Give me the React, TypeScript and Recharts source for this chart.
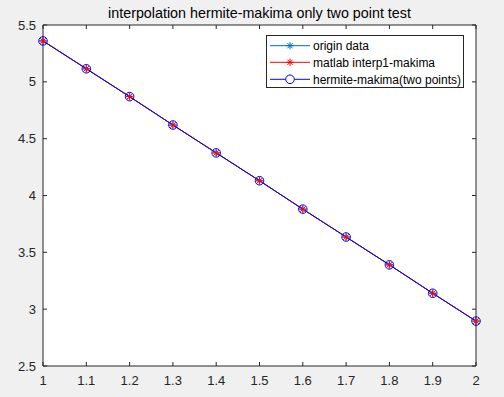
import React from "react";
import { LineChart, Line, XAxis, YAxis, ReferenceLine } from "recharts";

const xValues = [1, 1.1, 1.2, 1.3, 1.4, 1.5, 1.6, 1.7, 1.8, 1.9, 2];
const originY = [5.36, 5.115, 4.87, 4.62, 4.375, 4.13, 3.88, 3.635, 3.39, 3.14, 2.895];
const makimaY = [5.36, 5.115, 4.87, 4.62, 4.375, 4.13, 3.88, 3.635, 3.39, 3.14, 2.895];
const hermiteY = [5.36, 5.115, 4.87, 4.62, 4.375, 4.13, 3.88, 3.635, 3.39, 3.14, 2.895];
const xTicks = [1, 1.1, 1.2, 1.3, 1.4, 1.5, 1.6, 1.7, 1.8, 1.9, 2];
const yTicks = [2.5, 3, 3.5, 4, 4.5, 5, 5.5];
const seriesNames = ["origin data", "matlab interp1-makima", "hermite-makima(two points)"];
const titleText = "interpolation hermite-makima only two point test";

const data = xValues.map((x, i) => ({
  x,
  origin: originY[i],
  makima: makimaY[i],
  hermite: hermiteY[i],
}));

const W = 504;
const H = 397;
const PLOT_LEFT = 43;
const PLOT_RIGHT = 476;
const PLOT_TOP = 25;
const PLOT_BOTTOM = 366;
const AXIS_COLOR = "#262626";
const FONT = "Arial, 'Liberation Sans', Helvetica, sans-serif";
const C_ORIGIN = "#0072BD";
const C_MAKIMA = "#FF0000";
const C_HERMITE = "#0000FF";
const TICK_LEN = 4;

function Star({ cx, cy, color, r = 3.6 }: { cx: number; cy: number; color: string; r?: number }) {
  const d = r * 0.72;
  return (
    <g stroke={color} strokeWidth={1} fill="none">
      <line x1={cx - r} y1={cy} x2={cx + r} y2={cy} />
      <line x1={cx} y1={cy - r} x2={cx} y2={cy + r} />
      <line x1={cx - d} y1={cy - d} x2={cx + d} y2={cy + d} />
      <line x1={cx - d} y1={cy + d} x2={cx + d} y2={cy - d} />
    </g>
  );
}

const starDot = (color: string) => (props: any) => {
  const { cx, cy, index } = props;
  if (cx == null || cy == null) return <g key={index} />;
  return <Star key={index} cx={cx} cy={cy} color={color} />;
};

const circleDot = (props: any) => {
  const { cx, cy, index } = props;
  if (cx == null || cy == null) return <g key={index} />;
  return <circle key={index} cx={cx} cy={cy} r={4.3} fill="none" stroke={C_HERMITE} strokeWidth={1} />;
};

const XTick = (props: any) => {
  const { x, y, payload } = props;
  const cx = payload.coordinate ?? x;
  return (
    <g>
      <line x1={cx} y1={PLOT_BOTTOM} x2={cx} y2={PLOT_BOTTOM - TICK_LEN} stroke={AXIS_COLOR} />
      <line x1={cx} y1={PLOT_TOP} x2={cx} y2={PLOT_TOP + TICK_LEN} stroke={AXIS_COLOR} />
      <text x={cx} y={y} dy="0.71em" textAnchor="middle" fill={AXIS_COLOR} fontSize={13} fontFamily={FONT}>
        {String(payload.value)}
      </text>
    </g>
  );
};

const YTick = (props: any) => {
  const { x, y, payload } = props;
  const cy = payload.coordinate ?? y;
  return (
    <g>
      <line x1={PLOT_LEFT} y1={cy} x2={PLOT_LEFT + TICK_LEN} y2={cy} stroke={AXIS_COLOR} />
      <line x1={PLOT_RIGHT} y1={cy} x2={PLOT_RIGHT - TICK_LEN} y2={cy} stroke={AXIS_COLOR} />
      <text x={x} y={cy} dy="0.355em" textAnchor="end" fill={AXIS_COLOR} fontSize={13} fontFamily={FONT}>
        {String(payload.value)}
      </text>
    </g>
  );
};

function LegendBox() {
  const lx = 266.5;
  const ly = 35.5;
  const lw = 197;
  const lh = 52;
  const rows = [45.7, 62.3, 79.3];
  const colors = [C_ORIGIN, C_MAKIMA, C_HERMITE];
  return (
    <g>
      <rect x={lx} y={ly} width={lw} height={lh} fill="#ffffff" stroke={AXIS_COLOR} strokeWidth={1} />
      {seriesNames.map((name, i) => (
        <g key={name}>
          <line x1={270} y1={rows[i]} x2={310} y2={rows[i]} stroke={colors[i]} strokeWidth={1} />
          {i < 2 ? (
            <Star cx={290} cy={rows[i]} color={colors[i]} />
          ) : (
            <circle cx={290} cy={rows[i]} r={4.3} fill="#ffffff" stroke={C_HERMITE} strokeWidth={1} />
          )}
          <text x={313} y={rows[i]} dy="0.36em" fontSize={12} fill="#000" fontFamily={FONT}>
            {name}
          </text>
        </g>
      ))}
    </g>
  );
}

export default function App() {
  return (
    <div style={{ position: "absolute", left: 0, top: 0, width: W, height: H, background: "#f0f0f0" }}>
      <div style={{ position: "absolute", left: PLOT_LEFT, top: PLOT_TOP, width: PLOT_RIGHT - PLOT_LEFT, height: PLOT_BOTTOM - PLOT_TOP, background: "#ffffff" }} />
      <div style={{ position: "absolute", left: 0, top: 0 }}>
        <LineChart
          width={W}
          height={H}
          data={data}
          margin={{ top: PLOT_TOP, right: W - PLOT_RIGHT, bottom: 0, left: 0 }}
        >
          <XAxis
            dataKey="x"
            type="number"
            domain={[1, 2]}
            ticks={xTicks}
            interval={0}
            height={H - PLOT_BOTTOM}
            tickSize={0}
            tickMargin={10}
            axisLine={{ stroke: AXIS_COLOR }}
            tick={XTick}
          />
          <YAxis
            type="number"
            domain={[2.5, 5.5]}
            ticks={yTicks}
            interval={0}
            width={PLOT_LEFT}
            tickSize={0}
            tickMargin={7}
            axisLine={{ stroke: AXIS_COLOR }}
            tick={YTick}
          />
          <ReferenceLine y={5.5} stroke={AXIS_COLOR} />
          <ReferenceLine x={2} stroke={AXIS_COLOR} />
          <Line
            dataKey="origin"
            type="linear"
            stroke={C_ORIGIN}
            strokeWidth={1}
            dot={starDot(C_ORIGIN)}
            activeDot={false}
            isAnimationActive={false}
          />
          <Line
            dataKey="makima"
            type="linear"
            stroke={C_MAKIMA}
            strokeWidth={1}
            dot={starDot(C_MAKIMA)}
            activeDot={false}
            isAnimationActive={false}
          />
          <Line
            dataKey="hermite"
            type="linear"
            stroke={C_HERMITE}
            strokeWidth={1}
            dot={circleDot}
            activeDot={false}
            isAnimationActive={false}
          />
        </LineChart>
      </div>
      <svg width={W} height={H} style={{ position: "absolute", left: 0, top: 0, pointerEvents: "none" }}>
        <text x={(PLOT_LEFT + PLOT_RIGHT) / 2} y={17.5} textAnchor="middle" fontSize={14.3} fill="#000" fontFamily={FONT}>
          {titleText}
        </text>
        <LegendBox />
      </svg>
    </div>
  );
}
